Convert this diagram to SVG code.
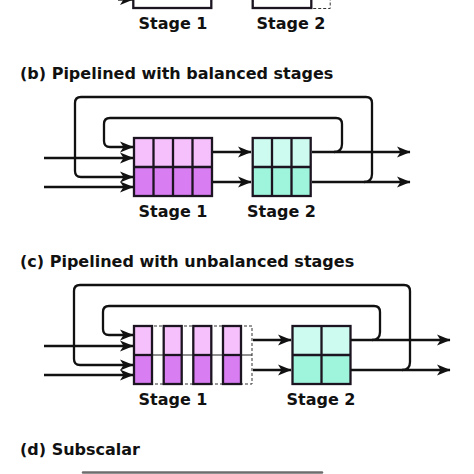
<svg xmlns="http://www.w3.org/2000/svg" width="474" height="474" viewBox="0 0 474 474">
<defs>
<marker id="ah" markerUnits="userSpaceOnUse" markerWidth="16" markerHeight="14" refX="13" refY="5.5" orient="auto" overflow="visible">
<path d="M0,0 L13.5,5.5 L0,11 L3.5,5.5 Z" fill="#111"/>
</marker>
</defs>
<style>
.t{font-family:"DejaVu Sans","Liberation Sans",sans-serif;font-weight:bold;font-size:16px;fill:#111}
.lab{font-family:"DejaVu Sans","Liberation Sans",sans-serif;font-weight:bold;font-size:16px;fill:#111;text-anchor:middle}
.c{fill:none;stroke:#111;stroke-width:2.3;marker-end:url(#ah)}
.b{fill:none;stroke:#1c1420;stroke-width:2.3}
.pl{fill:#f5c0fc}
.pd{fill:#d87df2}
.tl{fill:#cdfbef}
.td{fill:#9ff4dc}
.dash{fill:none;stroke:#333;stroke-width:1;stroke-dasharray:3 2}
</style>

<!-- (a) remnants -->
<g id="a-stage1">
<rect x="133.3" y="-50" width="78" height="58" fill="#dd7efc" class="b"/>
<text class="lab" x="173" y="29">Stage 1</text>
</g>
<g id="a-stage2">
<rect x="252.7" y="-50" width="77.5" height="58.5" class="dash"/>
<rect x="252.7" y="-50" width="58.6" height="58" fill="#a6fde6" class="b"/>
<text class="lab" x="291" y="29">Stage 2</text>
</g>

<!-- (b) -->
<text class="t" x="20" y="79">(b) Pipelined with balanced stages</text>
<g id="b-stage1">
<rect x="134" y="138" width="78" height="29" class="pl"/>
<rect x="134" y="167" width="78" height="29" class="pd"/>
<rect x="134" y="138" width="78" height="58" class="b"/>
<path d="M153.5,138V196M173,138V196M192.5,138V196M134,167H212" class="b"/>
<text class="lab" x="173" y="217">Stage 1</text>
</g>
<g id="b-stage2">
<rect x="252.7" y="138" width="58" height="29" class="tl"/>
<rect x="252.7" y="167" width="58" height="29" class="td"/>
<rect x="252.7" y="138" width="58" height="58" class="b"/>
<path d="M272,138V196M291.5,138V196M252.7,167H310.7" class="b"/>
<text class="lab" x="281.5" y="217">Stage 2</text>
</g>

<!-- (c) -->
<text class="t" x="20" y="267">(c) Pipelined with unbalanced stages</text>
<g id="c-stage1">
<rect x="134" y="326" width="118" height="58" class="dash"/>
<path d="M134,355H252" stroke="#222" stroke-width="1"/>
<rect x="134" y="326" width="18" height="29" class="pl"/>
<rect x="134" y="355" width="18" height="29" class="pd"/>
<rect x="134" y="326" width="18" height="58" class="b"/>
<path d="M134,355H152" class="b"/>
<rect x="163.7" y="326" width="18" height="29" class="pl"/>
<rect x="163.7" y="355" width="18" height="29" class="pd"/>
<rect x="163.7" y="326" width="18" height="58" class="b"/>
<path d="M163.7,355H181.7" class="b"/>
<rect x="193.3" y="326" width="18" height="29" class="pl"/>
<rect x="193.3" y="355" width="18" height="29" class="pd"/>
<rect x="193.3" y="326" width="18" height="58" class="b"/>
<path d="M193.3,355H211.3" class="b"/>
<rect x="223" y="326" width="18" height="29" class="pl"/>
<rect x="223" y="355" width="18" height="29" class="pd"/>
<rect x="223" y="326" width="18" height="58" class="b"/>
<path d="M223,355H241" class="b"/>
<text class="lab" x="173" y="405">Stage 1</text>
</g>
<g id="c-stage2">
<rect x="292.5" y="326" width="58" height="29" class="tl"/>
<rect x="292.5" y="355" width="58" height="29" class="td"/>
<rect x="292.5" y="326" width="58" height="58" class="b"/>
<path d="M321.5,326V384M292.5,355H350.5" class="b"/>
<text class="lab" x="321" y="405">Stage 2</text>
</g>

<!-- (d) -->
<text class="t" x="20" y="455">(d) Subscalar</text>
<g id="d-box">
<line x1="83" y1="472.5" x2="322" y2="472.5" stroke="#6d6d6d" stroke-width="2.5" stroke-linecap="round"/>
</g>

<g id="connectors">
<path class="c" d="M118,-0.5H133"/>
<!-- (b) -->
<path class="c" d="M44,158H133"/>
<path class="c" d="M44,187H133"/>
<path class="c" d="M213,152H251"/>
<path class="c" d="M213,182H251"/>
<path class="c" d="M312,152H410"/>
<path class="c" d="M312,182H410"/>
<path class="c" d="M334,152Q342,152 342,144V124Q342,118 336,118H110Q104,118 104,124V141Q104,147 110,147H133"/>
<path class="c" d="M364,182Q372,182 372,174V103Q372,97 366,97H81Q75,97 75,103V171Q75,177 81,177H133"/>
<!-- (c) -->
<path class="c" d="M44,346H133"/>
<path class="c" d="M44,375H133"/>
<path class="c" d="M253,340H291"/>
<path class="c" d="M253,370H291"/>
<path class="c" d="M351,340H450"/>
<path class="c" d="M351,370H450"/>
<path class="c" d="M372,340Q380,340 380,332V312Q380,306 374,306H109Q103,306 103,312V329Q103,335 109,335H133"/>
<path class="c" d="M402,370Q410,370 410,362V291Q410,285 404,285H80Q74,285 74,291V359Q74,365 80,365H133"/>
</g>
</svg>
